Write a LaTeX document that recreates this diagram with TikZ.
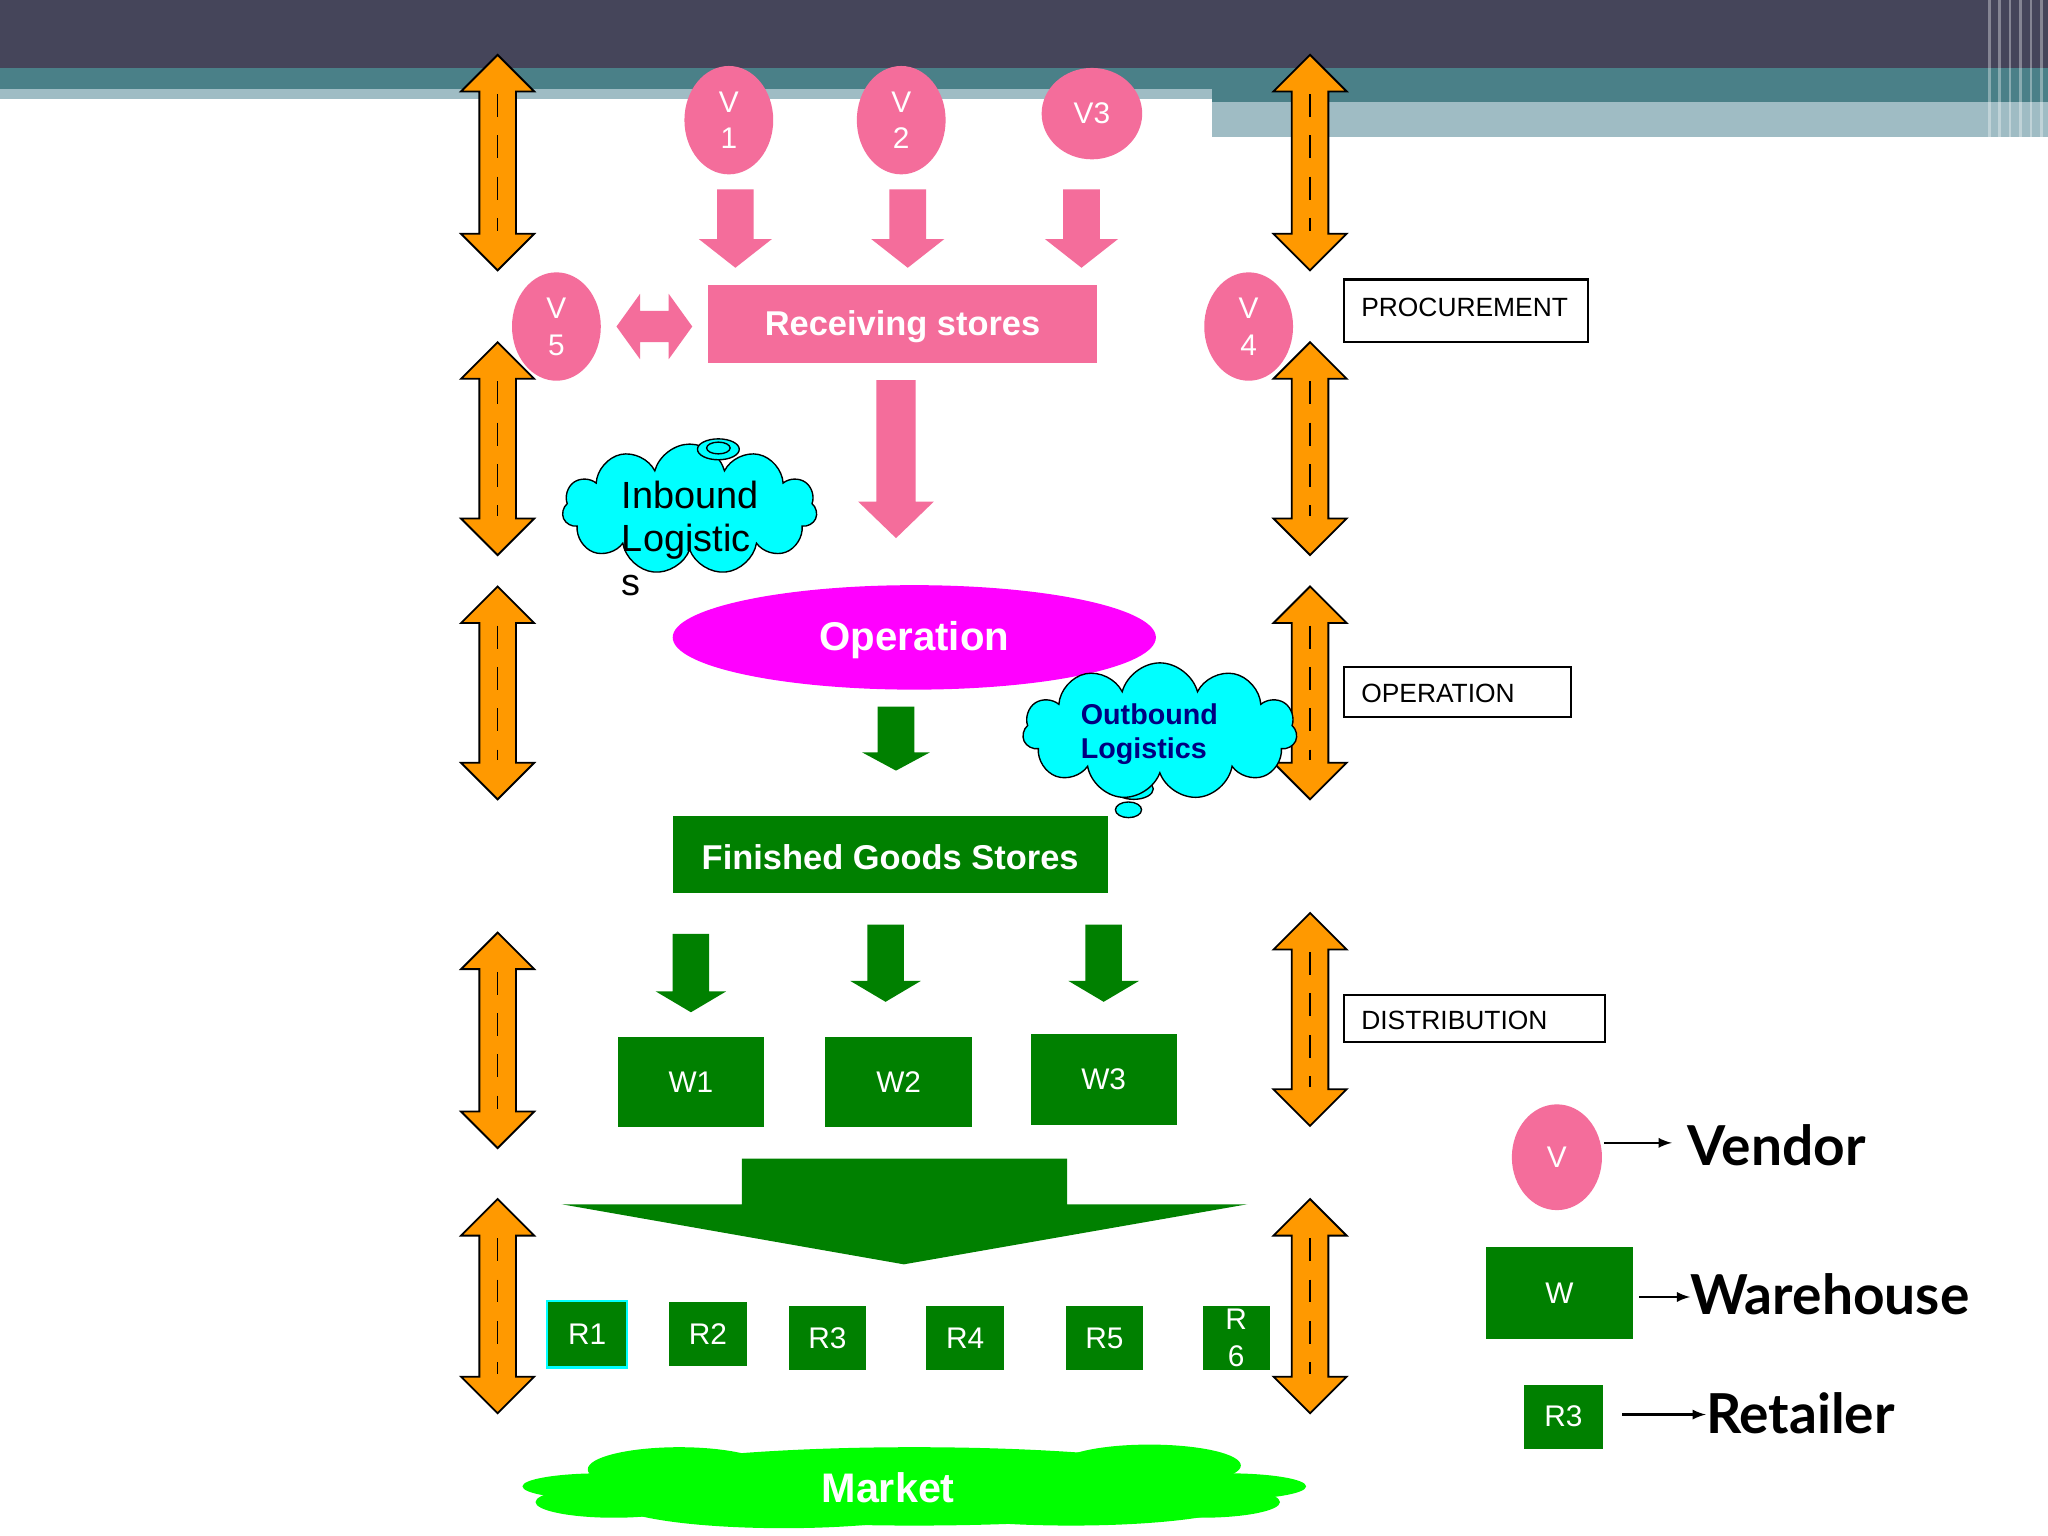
\documentclass[tikz,border=0pt]{standalone}
\usepackage{fontspec}
\setmainfont{Liberation Sans}
\newfontfamily\legf{Lato}
\usetikzlibrary{shapes.geometric,shapes.symbols}
\definecolor{pk}{HTML}{F46D9B}
\definecolor{gr}{HTML}{008000}
\definecolor{og}{HTML}{FF9900}
\definecolor{lb}{HTML}{9FBCC4}
\definecolor{tl}{HTML}{4A8088}
\definecolor{dk}{HTML}{45455A}
\definecolor{nv}{HTML}{000080}
\definecolor{lg}{HTML}{00FF00}
\definecolor{cy}{HTML}{00FFFF}
\definecolor{mg}{HTML}{FF00FF}
\newcommand{\odarrow}[3]{% x, y1, y2
  \filldraw[fill=og,draw=black,line width=0.8pt] (#1,#2) -- (#1+28,#2+28) -- (#1+14,#2+28) -- (#1+14,#3-28) -- (#1+28,#3-28) -- (#1,#3) -- (#1-28,#3-28) -- (#1-14,#3-28) -- (#1-14,#2+28) -- (#1-28,#2+28) -- cycle;
  \draw[dash pattern=on 10pt off 8pt,line width=0.6pt] (#1,#2+30) -- (#1,#3-30);}
\newcommand{\dnarrow}[7]{% x,y1,y2,shaft half,head half,head len,color
  \fill[#7] (#1-#4,#2) -- (#1+#4,#2) -- (#1+#4,#3-#6) -- (#1+#5,#3-#6) -- (#1,#3) -- (#1-#5,#3-#6) -- (#1-#4,#3-#6) -- cycle;}
\tikzset{
  vend/.style={ellipse,fill=pk,text=white,inner sep=0pt,minimum width=1.36cm,minimum height=1.66cm,align=center,font=\fontsize{13}{16}\selectfont},
  gbox/.style={rectangle,fill=gr,text=white,inner sep=0pt,font=\fontsize{13}{15}\selectfont,align=center},
  lab/.style={draw=black,line width=1pt,inner sep=0pt,anchor=north west},
  leg/.style={anchor=west,font=\legf\bfseries\fontsize{24}{28}\selectfont},
  larr/.style={-latex,line width=1pt}
}
\begin{document}
\begin{tikzpicture}[x=0.02cm,y=-0.02cm]
\useasboundingbox (0,0) rectangle (1568,1176);
\fill[white] (0,0) rectangle (1568,1176);
% header
\fill[lb] (0,68) rectangle (928,76);
\fill[lb] (928,60) rectangle (1568,105);
\fill[tl] (0,52) rectangle (1568,68);
\fill[tl] (928,52) rectangle (1568,78);
\fill[dk] (0,0) rectangle (1568,52);
\foreach \xx in {1522,1530,1538,1546,1554,1562}{\fill[white,opacity=0.35] (\xx,0) rectangle (\xx+2,105);}
% orange arrows
\odarrow{381}{42}{207}\odarrow{381}{262}{425}\odarrow{381}{449}{612}\odarrow{381}{714}{879}\odarrow{381}{918}{1082}
\odarrow{1003}{42}{207}\odarrow{1003}{262}{425}\odarrow{1003}{449}{612}\odarrow{1003}{699}{862}\odarrow{1003}{918}{1082}
% vendors
\node[vend] (v1) at (558,92) {V\\1};
\node[vend] (v2) at (690,92) {V\\2};
\node[vend,minimum width=1.54cm,minimum height=1.4cm] (v3) at (836,87) {V3};
\node[vend] (v5) at (426,250) {V\\5};
\node[vend] (v4) at (956,250) {V\\4};
\dnarrow{563}{145}{205}{14}{28}{22}{pk}
\dnarrow{695}{145}{205}{14}{28}{22}{pk}
\dnarrow{828}{145}{205}{14}{28}{22}{pk}
\fill[pk] (472,250) -- (490,225) -- (490,238) -- (512,238) -- (512,225) -- (530,250) -- (512,275) -- (512,262) -- (490,262) -- (490,275) -- cycle;
\node[rectangle,fill=pk,minimum width=5.96cm,minimum height=1.2cm] (rs) at (691,248) {};
\node[text=white,font=\bfseries\fontsize{15}{18}\selectfont] (rst) at (691,250) {Receiving stores};
\dnarrow{686}{291}{412}{15}{29}{28}{pk}
% inbound cloud
\node[cloud,cloud puffs=11,fill=cy,draw=black,line width=0.6pt,minimum width=3.9cm,minimum height=2.0cm,inner sep=0pt] (ib) at (528,390) {};
\node[align=left,font=\fontsize{16.5}{19}\selectfont,anchor=north west] (ibt) at (470,362) {Inbound\\Logistic\\s};
\filldraw[fill=cy,draw=black,line width=0.6pt] (550,344) ellipse (16 and 8);
\draw[line width=0.6pt] (550,343) ellipse (9 and 4.5);
% operation
\node[ellipse,fill=mg,minimum width=7.4cm,minimum height=1.6cm,inner sep=0pt] (op) at (700,488) {};
\node[text=white,font=\bfseries\fontsize{17.5}{20}\selectfont] (opt) at (700,490) {Operation};
\dnarrow{686}{541}{590}{14}{26}{14}{gr}
% outbound cloud
\filldraw[fill=cy,draw=black,line width=0.6pt] (868,604) ellipse (15 and 8);
\filldraw[fill=cy,draw=black,line width=0.6pt] (864,620) ellipse (10 and 6);
\node[cloud,cloud puffs=11,fill=cy,draw=black,line width=0.6pt,minimum width=4.2cm,minimum height=2.1cm,inner sep=0pt] (ob) at (888,560) {};
\node[align=left,text=nv,font=\bfseries\fontsize{12.5}{15}\selectfont] (obt) at (880,562) {Outbound\\Logistics};
% finished goods
\node[gbox,minimum width=6.66cm,minimum height=1.18cm] (fg) at (681.5,654.5) {};
\node[text=white,font=\bfseries\fontsize{15}{18}\selectfont] (fgt) at (681.5,656) {Finished Goods Stores};
\dnarrow{529}{715}{775}{14}{27}{16}{gr}
\dnarrow{678}{708}{767}{14}{27}{16}{gr}
\dnarrow{845}{708}{767}{14}{27}{16}{gr}
\node[gbox,minimum width=2.24cm,minimum height=1.38cm] (w1) at (529,828.5) {W1};
\node[gbox,minimum width=2.24cm,minimum height=1.38cm] (w2) at (688,828.5) {W2};
\node[gbox,minimum width=2.24cm,minimum height=1.38cm] (w3) at (845,826.5) {W3};
\fill[gr] (568,887) -- (817,887) -- (817,922) -- (955,922) -- (692,968) -- (430,922) -- (568,922) -- cycle;
\node[gbox,minimum width=1.22cm,minimum height=1.02cm,draw=cy,line width=1pt] (r1) at (449.5,1021.5) {R1};
\node[gbox,minimum width=1.2cm,minimum height=0.98cm] (r2) at (542,1021.5) {R2};
\node[gbox,minimum width=1.18cm,minimum height=0.98cm] (r3) at (633.5,1024.5) {R3};
\node[gbox,minimum width=1.2cm,minimum height=0.98cm] (r4) at (739,1024.5) {R4};
\node[gbox,minimum width=1.18cm,minimum height=0.98cm] (r5) at (845.5,1024.5) {R5};
\node[gbox,minimum width=1.02cm,minimum height=0.98cm,font=\fontsize{13}{16}\selectfont] (r6) at (946.5,1024.5) {R\\6};
% market
\begin{scope}[fill=lg]
\fill (460,1138) ellipse (60 and 10);
\fill (940,1138) ellipse (60 and 10);
\fill (520,1125) ellipse (70 and 17);
\fill (880,1122) ellipse (70 and 16);
\fill (700,1138) ellipse (250 and 30);
\fill (600,1150) ellipse (130 and 20);
\fill (820,1150) ellipse (130 and 18);
\fill (470,1150) ellipse (60 and 12);
\fill (920,1150) ellipse (60 and 12);
\end{scope}
\node[text=white,font=\bfseries\fontsize{18}{20}\selectfont] (mk) at (680,1139) {Market};
% labels
\node[lab,minimum width=3.74cm,minimum height=0.96cm] (pr) at (1028,213) {};
\node[anchor=west,font=\fontsize{11.5}{14}\selectfont] at (1036,235) {PROCUREMENT};
\node[lab,minimum width=3.48cm,minimum height=0.76cm] (opl) at (1028,510) {};
\node[anchor=west,font=\fontsize{11.5}{14}\selectfont] at (1036,531) {OPERATION};
\node[lab,minimum width=4.0cm,minimum height=0.72cm] (di) at (1028,761) {};
\node[anchor=west,font=\fontsize{11.5}{14}\selectfont] at (1036,781) {DISTRIBUTION};
% legend
\node[vend,minimum width=1.38cm,minimum height=1.62cm] (lv) at (1192,886) {V};
\coordinate (lva) at (1280,875);
\draw[larr] (1228,875) -- (lva);
\node[leg] (lvt) at (1286,877) {Vendor};
\node[gbox,minimum width=2.24cm,minimum height=1.4cm] (lw) at (1194,990) {W};
\coordinate (lwa) at (1294,993);
\draw[larr] (1255,993) -- (lwa);
\node[leg] (lwt) at (1288,991) {Warehouse};
\node[gbox,minimum width=1.2cm,minimum height=0.98cm] (lr) at (1197,1084.5) {R3};
\coordinate (lra) at (1306,1083);
\draw[larr] (1242,1083) -- (lra);
\node[leg] (lrt) at (1300,1082) {Retailer};
\end{tikzpicture}
\end{document}
